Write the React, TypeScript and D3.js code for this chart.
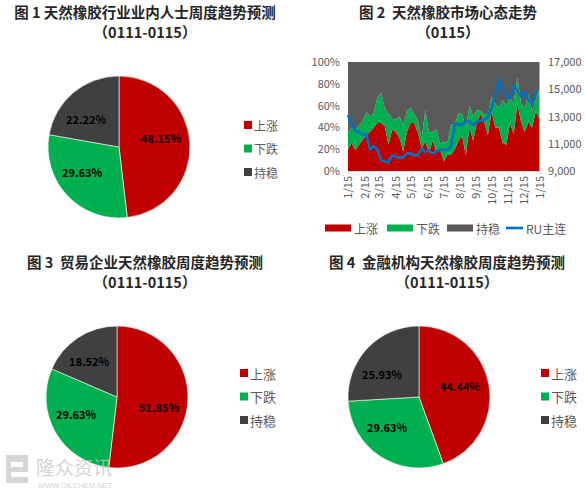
import React, { useEffect, useRef } from 'react';
import * as d3 from 'd3';

// pie data
const pieLabels = ['上涨', '下跌', '持稳'];
const pie1 = [48.15, 29.63, 22.22];
const pie3 = [51.85, 29.63, 18.52];
const pie4 = [44.44, 29.63, 25.93];

// weekly sentiment (percent), from 2021-01-15
const upVals = [20, 26, 19, 24, 29, 33, 36, 40, 44, 44, 41, 24, 38, 36, 30, 18, 36, 44, 44, 35, 21, 27, 17, 28, 18, 20, 9, 15, 15, 20, 28, 32, 15, 40, 28, 45, 52, 45, 33, 55, 40, 40, 26, 24, 44, 34, 62, 45, 36, 45, 40, 55, 48];
const downVals = [16, 14, 19, 18, 17, 21, 14, 13, 24, 28, 16, 29, 10, 11, 20, 24, 19, 14, 8, 11, 9, 29, 18, 8, 20, 5, 18, 11, 28, 23, 25, 20, 25, 20, 22, 11, 3, 7, 19, 13, 22, 18, 39, 36, 24, 28, 24, 17, 22, 25, 15, 10, 28];
// RU main contract price
const ruVals = [13100, 12400, 12000, 11850, 11650, 11700, 10550, 10850, 10550, 9800, 9700, 9650, 10150, 10050, 10000, 10000, 10300, 10300, 10150, 10170, 10650, 10420, 10480, 10300, 10450, 10550, 10590, 10540, 10780, 12440, 12440, 12370, 12680, 12610, 12370, 12610, 12680, 12750, 12950, 13700, 14500, 15700, 14930, 14440, 14320, 15290, 14880, 14440, 14800, 14200, 13950, 14880];

const leftTicks = [0, 0.2, 0.4, 0.6, 0.8, 1];
const rightTicks = [9000, 11000, 13000, 15000, 17000];
const monthTicks = d3.range(13).map((m) => new Date(2021, m, 15));

const colors = ['#C00000', '#00B050', '#404040'];
const areaColors = ['#C00000', '#00B050', '#595959'];
const font = '"Noto Sans CJK SC", "Noto Sans", sans-serif';

const App = () => {
    const svgRef = useRef(null);

    useEffect(() => {
        const svg = d3.select(svgRef.current);
        svg.selectAll('*').remove();

        svg.append('rect').attr('width', 585).attr('height', 493).attr('fill', '#fff');

        // titles
        const title = (x, y, lines) => {
            lines.forEach((t, i) => {
                svg.append('text')
                    .attr('x', x).attr('y', y + i * 20)
                    .attr('text-anchor', 'middle')
                    .attr('font-size', 14.5).attr('font-weight', 'bold')
                    .attr('fill', '#262626')
                    .style('white-space', 'pre')
                    .text(t);
            });
        };
        title(145, 18, ['图 1 天然橡胶行业业内人士周度趋势预测', '（0111-0115）']);
        title(448, 18, ['图 2  天然橡胶市场心态走势', '（0115）']);
        title(145, 268, ['图 3  贸易企业天然橡胶周度趋势预测', '（0111-0115）']);
        title(447, 268, ['图 4  金融机构天然橡胶周度趋势预测', '（0111-0115）']);

        // pies
        const drawPie = (vals, cx, cy, r, labelPos, legX, legY, legFs) => {
            const g = svg.append('g').attr('transform', `translate(${cx},${cy})`);
            const arcs = d3.pie().sort(null)(vals);
            const arc = d3.arc().innerRadius(0).outerRadius(r);
            g.selectAll('path').data(arcs).join('path')
                .attr('d', arc)
                .attr('fill', (d, i) => colors[i])
                .attr('stroke', '#fff').attr('stroke-width', 0.6);
            arcs.forEach((d, i) => {
                g.append('text')
                    .attr('x', labelPos[i][0] - cx).attr('y', labelPos[i][1] - cy)
                    .attr('text-anchor', 'middle').attr('dominant-baseline', 'central')
                    .attr('font-size', 11).attr('font-weight', 'bold').attr('fill', '#000')
                    .text(vals[i].toFixed(2) + '%');
            });
            pieLabels.forEach((l, i) => {
                const y = legY + i * 23.5;
                svg.append('rect').attr('x', legX).attr('y', y - 4).attr('width', 8).attr('height', 8).attr('fill', colors[i]);
                svg.append('text').attr('x', legX + 10).attr('y', y).attr('dominant-baseline', 'central')
                    .attr('font-size', legFs).attr('fill', '#595959').text(l);
            });
        };
        drawPie(pie1, 119, 147, 71, [[161, 138], [82, 172], [86, 119]], 244, 125, 12);
        drawPie(pie3, 117, 397, 71, [[159, 407], [76, 414], [89, 361]], 240, 373, 13);
        drawPie(pie4, 419, 397, 71, [[460, 386], [387, 427], [382, 374]], 541, 373, 13);

        // area chart
        const x0 = 348, x1 = 540, y0 = 171, y1 = 62;
        const dates = upVals.map((_, i) => d3.timeWeek.offset(new Date(2021, 0, 15), i));
        const rows = upVals.map((u, i) => ({ date: dates[i], up: u / 100, down: downVals[i] / 100, flat: 1 - (u + downVals[i]) / 100 }));
        const x = d3.scaleTime().domain([new Date(2021, 0, 15), new Date(2022, 0, 15)]).range([x0, x1]);
        const yL = d3.scaleLinear().domain([0, 1]).range([y0, y1]);
        const yR = d3.scaleLinear().domain([9000, 17000]).range([y0, y1]);

        const stack = d3.stack().keys(['up', 'down', 'flat'])(rows);
        const area = d3.area().x((d) => x(d.data.date)).y0((d) => yL(d[0])).y1((d) => yL(d[1]));
        svg.append('g').selectAll('path').data(stack).join('path')
            .attr('d', area).attr('fill', (d, i) => areaColors[i]);

        const line = d3.line().x((d, i) => x(dates[i])).y((d) => yR(d));
        svg.append('path').datum(ruVals).attr('d', line)
            .attr('fill', 'none').attr('stroke', '#0070C0').attr('stroke-width', 2.6)
            .attr('stroke-linejoin', 'round');

        const gl = svg.append('g').attr('transform', `translate(${x0},0)`)
            .call(d3.axisLeft(yL).tickValues(leftTicks).tickFormat(d3.format('.0%')).tickSize(0).tickPadding(8));
        gl.select('.domain').remove();
        const gr = svg.append('g').attr('transform', `translate(${x1},0)`)
            .call(d3.axisRight(yR).tickValues(rightTicks).tickSize(0).tickPadding(8));
        gr.select('.domain').remove();
        const gx = svg.append('g').attr('transform', `translate(0,${y0})`)
            .call(d3.axisBottom(x).tickValues(monthTicks).tickFormat(d3.timeFormat('%-m/%-d')).tickSize(3).tickSizeOuter(0));
        gx.select('.domain').attr('stroke', '#d9d9d9');
        gx.selectAll('line').attr('stroke', '#d9d9d9');
        gx.selectAll('text')
            .attr('transform', 'rotate(-90)')
            .attr('text-anchor', 'end')
            .attr('x', -5).attr('y', 0).attr('dy', '0.35em');
        [gl, gr, gx].forEach((g) => g.selectAll('text').attr('font-size', 11).attr('fill', '#595959').attr('font-family', font));

        // area legend
        const legY = 228;
        [[325, '上涨'], [387, '下跌'], [447, '持稳']].forEach(([lx, t], i) => {
            svg.append('rect').attr('x', lx).attr('y', legY - 3.5).attr('width', 26).attr('height', 7).attr('fill', areaColors[i]);
            svg.append('text').attr('x', lx + 29).attr('y', legY).attr('dominant-baseline', 'central')
                .attr('font-size', 12).attr('fill', '#595959').text(t);
        });
        svg.append('line').attr('x1', 506).attr('x2', 523).attr('y1', legY).attr('y2', legY)
            .attr('stroke', '#0070C0').attr('stroke-width', 2.6);
        svg.append('text').attr('x', 526).attr('y', legY).attr('dominant-baseline', 'central')
            .attr('font-size', 12).attr('fill', '#595959').text('RU主连');

        // watermark
        const wm = svg.append('g').attr('opacity', 0.75);
        wm.append('path').attr('d', 'M6,455 h22 v28 h-22 z M11,462 h12 v5 h-12 z M11,472 h17 v5 h-17 z')
            .attr('fill', '#c8c8c8').attr('fill-rule', 'evenodd');
        wm.append('text').attr('x', 36).attr('y', 475).attr('font-size', 19).attr('fill', '#c8c8c8').text('隆众资讯');
        wm.append('text').attr('x', 38).attr('y', 488).attr('font-size', 7.5).attr('fill', '#c8c8c8')
            .attr('font-family', 'Arial, "Liberation Sans", sans-serif').text('WWW.OILCHEM.NET');
    }, []);

    return (
        <svg ref={svgRef} width={585} height={493}
            style={{ position: 'absolute', left: 0, top: 0, fontFamily: font }} />
    );
};

export default App;
